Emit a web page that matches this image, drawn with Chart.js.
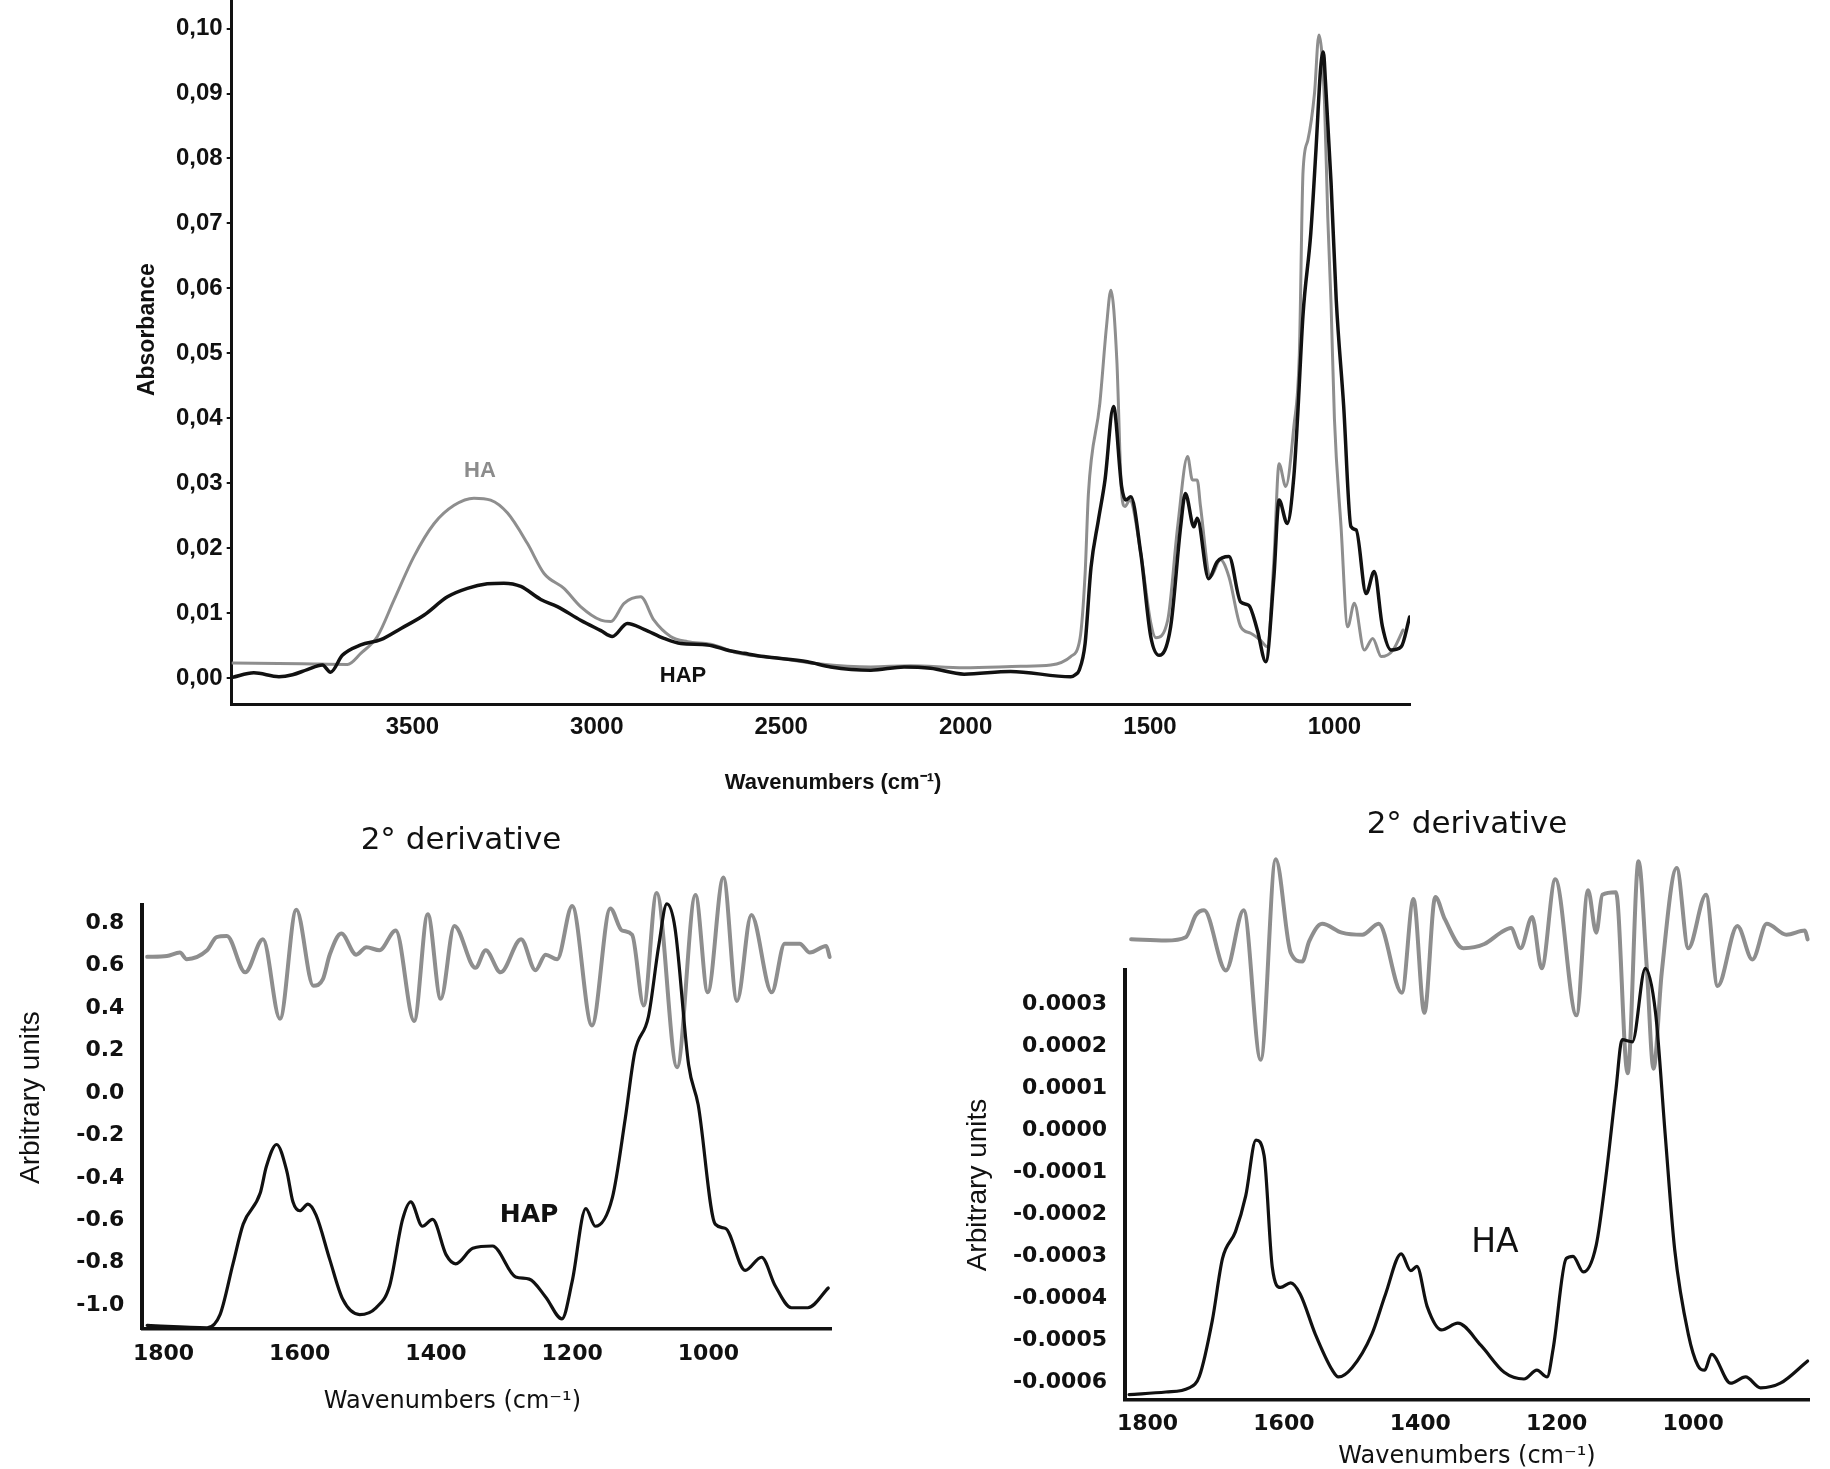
<!DOCTYPE html>
<html><head><meta charset="utf-8">
<script src="https://cdn.jsdelivr.net/npm/chart.js@4.4.1/dist/chart.umd.min.js"></script>
<style>
html,body{margin:0;padding:0;background:#fff;width:1830px;height:1469px;overflow:hidden;position:relative}
canvas{position:absolute}
.lbl{position:absolute;white-space:nowrap;transform:translate(-50%,-50%);line-height:1}
</style></head><body>
<canvas id="top" width="1460" height="820" style="left:0;top:0;width:1460px;height:820px"></canvas>
<canvas id="bl" width="922" height="580" style="left:0;top:840px;width:922px;height:580px"></canvas>
<canvas id="br" width="890" height="629" style="left:940px;top:840px;width:890px;height:629px"></canvas>
<div class="lbl" style="left:480px;top:470px;font:bold 22px 'Liberation Sans';color:#8c8c8c">HA</div>
<div class="lbl" style="left:683px;top:675px;font:bold 22px 'Liberation Sans';color:#111">HAP</div>
<div class="lbl" style="left:461px;top:838px;font:31px 'DejaVu Sans';color:#111">2° derivative</div>
<div class="lbl" style="left:1467px;top:822px;font:31px 'DejaVu Sans';color:#111">2° derivative</div>
<div class="lbl" style="left:529px;top:1213px;font:bold 25px 'DejaVu Sans';color:#111">HAP</div>
<div class="lbl" style="left:1495px;top:1240px;font:33px 'DejaVu Sans';color:#111">HA</div>
<script>
// ---------- Top: FTIR absorbance ----------
const topXTicks = [3500, 3000, 2500, 2000, 1500, 1000];
const topYTicks = [0, 0.01, 0.02, 0.03, 0.04, 0.05, 0.06, 0.07, 0.08, 0.09, 0.10];

const topHAPWavenumbers = [3988,3930,3862,3825,3785,3744,3722,3690,3640,3586,3532,3468,3405,3351,3297,3252,3206,3152,3107,3044,2989,2958,2917,2872,2818,2772,2700,2640,2600,2547,2429,2366,2257,2167,2095,2004,1878,1715,1703,1692,1676,1660,1640,1622,1599,1577,1566,1552,1525,1498,1475,1444,1417,1404,1381,1372,1341,1318,1286,1254,1232,1209,1186,1164,1150,1128,1110,1100,1085,1064,1050,1037,1030,1024,1009,995,975,955,941,914,892,870,846,819,796];
const topHAPAbsorbance = [0.0001,0.0008,0.0002,0.0005,0.0013,0.0020,0.0009,0.0035,0.0051,0.0059,0.0076,0.0097,0.0125,0.0138,0.0145,0.0146,0.0141,0.0121,0.0110,0.0089,0.0073,0.0064,0.0084,0.0075,0.0061,0.0053,0.0051,0.0042,0.0038,0.0033,0.0025,0.0017,0.0012,0.0017,0.0015,0.0006,0.0010,0.0002,0.0005,0.0012,0.0053,0.0170,0.0243,0.0305,0.0418,0.0295,0.0274,0.0279,0.0192,0.0064,0.0035,0.0079,0.0233,0.0284,0.0233,0.0246,0.0153,0.0179,0.0187,0.0117,0.0112,0.0074,0.0025,0.0156,0.0274,0.0238,0.0310,0.0400,0.0560,0.0685,0.0813,0.0941,0.0964,0.0916,0.0762,0.0582,0.0420,0.0233,0.0228,0.0130,0.0164,0.0080,0.0043,0.0048,0.0094];

const topHAWavenumbers = [3988,3800,3676,3640,3595,3550,3496,3441,3387,3333,3288,3242,3188,3143,3089,3044,2989,2962,2926,2881,2845,2800,2754,2691,2614,2500,2400,2257,2150,2004,1850,1769,1715,1690,1676,1667,1636,1618,1606,1590,1577,1568,1555,1525,1498,1484,1452,1425,1398,1385,1372,1363,1336,1309,1286,1254,1227,1200,1182,1164,1150,1132,1110,1095,1085,1072,1054,1042,1027,1018,1009,1000,982,964,946,919,896,873,841,814];
const topHAAbsorbance = [0.0023,0.0022,0.0021,0.0038,0.0064,0.0120,0.0187,0.0238,0.0266,0.0277,0.0274,0.0254,0.0207,0.0161,0.0138,0.0110,0.0089,0.0087,0.0115,0.0125,0.0089,0.0064,0.0056,0.0052,0.0038,0.0030,0.0022,0.0017,0.0019,0.0016,0.0018,0.0020,0.0033,0.0060,0.0160,0.0284,0.0423,0.0541,0.0597,0.0490,0.0285,0.0264,0.0274,0.0192,0.0085,0.0062,0.0089,0.0233,0.0341,0.0305,0.0305,0.0264,0.0156,0.0182,0.0156,0.0079,0.0069,0.0058,0.0048,0.0182,0.0330,0.0295,0.0387,0.0500,0.0780,0.0828,0.0900,0.0990,0.0890,0.0710,0.0575,0.0400,0.0233,0.0079,0.0115,0.0043,0.0061,0.0033,0.0043,0.0074];

// ---------- Bottom-left: HAP 2nd derivative ----------
const derivXTicks = [1800, 1600, 1400, 1200, 1000];
const hapYTicks = [0.8, 0.6, 0.4, 0.2, 0.0, -0.2, -0.4, -0.6, -0.8, -1.0];

const hapAbsWavenumbers = [1824,1736,1717,1698,1683,1658,1649,1634,1619,1610,1600,1588,1576,1556,1537,1512,1488,1468,1449,1437,1420,1405,1385,1371,1346,1317,1283,1263,1239,1215,1200,1180,1166,1141,1122,1108,1088,1073,1061,1049,1029,1015,990,975,946,922,902,878,854,824];
const hapAbsValues = [-1.095,-1.106,-1.044,-0.805,-0.618,-0.472,-0.347,-0.243,-0.368,-0.513,-0.555,-0.524,-0.576,-0.784,-0.971,-1.044,-1.012,-0.908,-0.596,-0.513,-0.628,-0.596,-0.763,-0.805,-0.732,-0.721,-0.867,-0.877,-0.961,-1.064,-0.888,-0.545,-0.628,-0.493,-0.119,0.193,0.360,0.692,0.890,0.776,0.131,-0.056,-0.618,-0.638,-0.836,-0.774,-0.908,-1.012,-1.012,-0.919];

const hapDerivWavenumbers = [1824,1795,1776,1766,1736,1722,1707,1680,1654,1629,1605,1580,1566,1556,1539,1517,1502,1483,1459,1432,1412,1393,1373,1342,1327,1305,1275,1254,1239,1222,1200,1171,1144,1127,1112,1095,1076,1046,1019,1001,978,958,937,907,888,866,851,827,822];
const hapDerivValues = [0.641,0.645,0.661,0.630,0.672,0.734,0.739,0.568,0.724,0.349,0.863,0.505,0.536,0.651,0.751,0.651,0.686,0.672,0.765,0.339,0.842,0.443,0.786,0.589,0.672,0.568,0.724,0.578,0.651,0.630,0.880,0.318,0.869,0.765,0.745,0.412,0.942,0.121,0.932,0.474,1.015,0.433,0.838,0.474,0.703,0.703,0.661,0.692,0.640];

// ---------- Bottom-right: HA 2nd derivative ----------
const haYTicks = [0.0003, 0.0002, 0.0001, 0.0000, -0.0001, -0.0002, -0.0003, -0.0004, -0.0005, -0.0006];

const haAbsWavenumbers = [1827,1773,1739,1724,1705,1690,1671,1656,1641,1629,1617,1605,1590,1576,1554,1529,1520,1500,1471,1451,1428,1414,1405,1390,1369,1345,1311,1277,1248,1229,1214,1205,1186,1176,1161,1142,1128,1113,1104,1089,1070,1055,1041,1027,1007,993,983,973,945,923,901,872,832];
const haAbsValues = [-0.000630,-0.000624,-0.000614,-0.000587,-0.000454,-0.000306,-0.000242,-0.000157,-0.000024,-0.000061,-0.000327,-0.000375,-0.000364,-0.000391,-0.000486,-0.000572,-0.000588,-0.000566,-0.000486,-0.000391,-0.000295,-0.000335,-0.000325,-0.000420,-0.000476,-0.000460,-0.000513,-0.000577,-0.000593,-0.000572,-0.000588,-0.000519,-0.000306,-0.000301,-0.000338,-0.000274,-0.000114,0.000098,0.000215,0.000210,0.000385,0.000279,-0.000008,-0.000284,-0.000486,-0.000561,-0.000572,-0.000534,-0.000603,-0.000588,-0.000614,-0.000603,-0.000550];

const haDerivWavenumbers = [1824,1773,1744,1729,1717,1685,1659,1634,1612,1590,1573,1563,1544,1515,1485,1461,1427,1410,1394,1378,1364,1337,1306,1282,1267,1253,1236,1222,1202,1171,1154,1142,1133,1113,1096,1080,1068,1058,1046,1024,1007,981,964,935,913,892,863,836,832];
const haDerivValues = [0.000454,0.000451,0.000459,0.000512,0.000523,0.000380,0.000523,0.000167,0.000645,0.000422,0.000401,0.000449,0.000491,0.000470,0.000465,0.000491,0.000327,0.000550,0.000279,0.000555,0.000502,0.000433,0.000443,0.000470,0.000481,0.000433,0.000507,0.000385,0.000597,0.000273,0.000571,0.000470,0.000560,0.000566,0.000135,0.000640,0.000390,0.000146,0.000374,0.000624,0.000433,0.000560,0.000343,0.000486,0.000406,0.000491,0.000465,0.000475,0.000454];

// ---------- helpers ----------
const INK = '#111111';
const GREY = '#8e8e8e';
function pts(xs, ys) { return xs.map((x, i) => ({ x: x, y: ys[i] })); }
function fixTicks(arr) { return s => { s.ticks = arr.map(v => ({ value: v })); }; }
const base = {
  responsive: false, animation: false, devicePixelRatio: 1,
  plugins: { legend: { display: false }, tooltip: { enabled: false } },
  elements: { point: { radius: 0 }, line: { cubicInterpolationMode: 'monotone', borderCapStyle: 'round', borderJoinStyle: 'round' } }
};

// Top chart
new Chart(document.getElementById('top'), {
  type: 'line',
  data: { datasets: [
    { label: 'HAP', data: pts(topHAPWavenumbers, topHAPAbsorbance), borderColor: INK, borderWidth: 3.5 },
    { label: 'HA', data: pts(topHAWavenumbers, topHAAbsorbance), borderColor: GREY, borderWidth: 3 }
  ] },
  options: Object.assign({}, base, {
    layout: { padding: { left: 0, top: 0, right: 50, bottom: 0 } },
    scales: {
      x: { type: 'linear', reverse: true, min: 795, max: 3990,
        afterBuildTicks: fixTicks(topXTicks), afterFit: s => { s.height = 116; },
        grid: { display: false }, border: { display: true, color: INK, width: 3 },
        ticks: { color: INK, padding: 1, maxRotation: 0, autoSkip: false,
          font: { family: 'Liberation Sans', weight: 'bold', size: 24 }, callback: v => String(v) },
        title: { display: true, text: '    Wavenumbers (cm⁻¹)', color: INK,
          font: { family: 'Liberation Sans', weight: 'bold', size: 22 }, padding: { top: 0, bottom: 24 } } },
      y: { type: 'linear', min: -0.004, max: 0.1044,
        afterBuildTicks: fixTicks(topYTicks),
        afterFit: s => { s.width = 231.7; s.paddingTop = 0; s.paddingBottom = 0; },
        grid: { display: true, drawOnChartArea: false, drawTicks: true, tickLength: 5, color: INK, lineWidth: 2 },
        border: { display: true, color: INK, width: 3 },
        ticks: { color: INK, padding: 4, autoSkip: false,
          font: { family: 'Liberation Sans', weight: 'bold', size: 24 },
          callback: v => v.toFixed(2).replace('.', ',') },
        title: { display: true, text: '       Absorbance', color: INK,
          font: { family: 'Liberation Sans', weight: 'bold', size: 23 }, padding: { top: 134, bottom: 0 } } }
    }
  })
});

function derivChart(id, absX, absY, derX, derY, xmin, xmax, ymin, ymax, yTicks, fmt, lay, yWidth, xHeight, xTickPad, xTitle, xTitlePad, xTitleLH, yTitle, yTitlePad) {
  return new Chart(document.getElementById(id), {
    type: 'line',
    data: { datasets: [
      { label: 'spectrum', data: pts(absX, absY), borderColor: INK, borderWidth: 3.2, clip: false },
      { label: '2nd derivative', data: pts(derX, derY), borderColor: GREY, borderWidth: 4, clip: false }
    ] },
    options: Object.assign({}, base, {
      layout: { padding: lay },
      scales: {
        x: { type: 'linear', reverse: true, min: xmin, max: xmax,
          afterBuildTicks: fixTicks(derivXTicks), afterFit: s => { s.height = xHeight; },
          grid: { display: false }, border: { display: true, color: INK, width: 3.5 },
          ticks: { color: INK, padding: xTickPad, maxRotation: 0, autoSkip: false,
            font: { family: 'DejaVu Sans', weight: 'bold', size: 22 }, callback: v => String(v) },
          title: { display: true, text: xTitle, color: INK,
            font: { family: 'DejaVu Sans', size: 24, lineHeight: xTitleLH }, padding: { top: 0, bottom: xTitlePad } } },
        y: { type: 'linear', min: ymin, max: ymax,
          afterBuildTicks: fixTicks(yTicks),
          afterFit: s => { s.width = yWidth; s.paddingTop = 0; s.paddingBottom = 0; },
          grid: { display: false }, border: { display: true, color: INK, width: 4 },
          ticks: { color: INK, padding: 10, autoSkip: false,
            font: { family: 'DejaVu Sans', weight: 'bold', size: 22 }, callback: fmt },
          title: { display: true, text: yTitle, color: INK,
            font: { family: 'Liberation Sans', size: 28 }, padding: { top: yTitlePad, bottom: 0 } } }
      }
    })
  });
}

derivChart('bl', hapAbsWavenumbers, hapAbsValues, hapDerivWavenumbers, hapDerivValues,
  820, 1831, -1.112, 0.885, hapYTicks, v => v.toFixed(1),
  { left: 0, top: 65, right: 91, bottom: 0 }, 142.4, 91, 4,
  'Wavenumbers (cm⁻¹)         ', 4, 1.2, '     Arbitrary units', 14.7);

derivChart('br', haAbsWavenumbers, haAbsValues, haDerivWavenumbers, haDerivValues,
  830, 1833, -0.000643, 0.000381, haYTicks, v => v.toFixed(4),
  { left: 0, top: 130, right: 21, bottom: 0 }, 185, 69, 3,
  'Wavenumbers (cm⁻¹)', 0, 1.0, 'Arbitrary units', 21.2);
</script>
</body></html>
